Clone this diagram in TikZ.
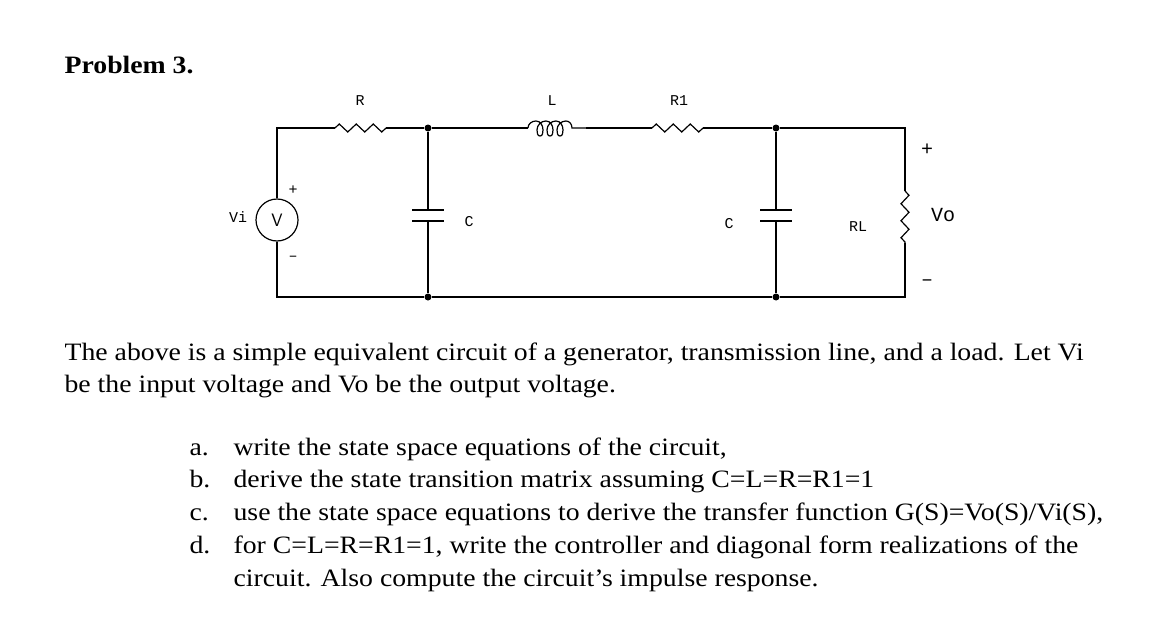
\documentclass[tikz,border=0pt]{standalone}
\usepackage{fontspec}
\setmainfont{Liberation Serif}[FakeStretch=1.11]
\newfontfamily\monof{Liberation Mono}
\usetikzlibrary{decorations.pathmorphing,calc}
\begin{document}
\begin{tikzpicture}[x=1pt,y=-1pt,line width=1.2pt,
  lbl/.style={font=\monof\fontsize{15}{15}\selectfont,inner sep=0pt},
  txt/.style={font=\fontsize{25}{32}\selectfont,inner sep=0pt,anchor=base west},
  dot/.style={circle,fill,inner sep=0pt,minimum size=7pt},
  zz/.style={decorate,decoration={zigzag,segment length=17pt,amplitude=4pt}}]
\useasboundingbox (0,0) rectangle (1166,626);
\node[txt,font=\bfseries\fontsize{25}{32}\selectfont] (title) at (64,74) {Problem 3.};
% corners
\coordinate (tl) at (277,128); \coordinate (bl) at (277,297);
\coordinate (tr) at (905,128); \coordinate (br) at (905,297);
\node[dot] (n1) at (428,128) {}; \node[dot] (n2) at (776,128) {};
\node[dot] (n3) at (428,297) {}; \node[dot] (n4) at (776,297) {};
\node[circle,draw,minimum size=42pt,inner sep=0pt,font=\sffamily\fontsize{18}{18}\selectfont] (src) at (277,220) {V};
\coordinate (ra) at (335,128); \coordinate (rb) at (386,128);
\coordinate (la) at (528,128); \coordinate (lb) at (586,128);
\coordinate (r1a) at (652,128); \coordinate (r1b) at (703,128);
\coordinate (rla) at (905,191); \coordinate (rlb) at (905,243);
\draw (src.north) -- (tl) -- (ra);
\draw[zz] (ra) -- (rb);
\draw (rb) -- (n1) -- (la);
\draw (la) to[out=90,in=180] ++(8,-7) to[out=0,in=90] ++(7,9) to[out=-90,in=0] ++(-3,6) to[out=180,in=-90] ++(-3,-6)
 to[out=90,in=180] ++(9,-9) to[out=0,in=90] ++(7,9) to[out=-90,in=0] ++(-3,6) to[out=180,in=-90] ++(-3,-6)
 to[out=90,in=180] ++(9,-9) to[out=0,in=90] ++(7,9) to[out=-90,in=0] ++(-3,6) to[out=180,in=-90] ++(-3,-6)
 to[out=90,in=180] ++(9,-9) to[out=0,in=90] ++(6,7) -- (lb);
\draw (lb) -- (r1a);
\draw[zz] (r1a) -- (r1b);
\draw (r1b) -- (n2) -- (tr) -- (rla);
\draw[zz,decoration={zigzag,segment length=17pt,amplitude=4pt}] (rla) -- (rlb);
\draw (rlb) -- (br) -- (n4) -- (n3) -- (bl) -- (src.south);
% capacitors
\draw (n1) -- (428,210) (412,210) -- (444,210) (412,221) -- (444,221) (428,221) -- (n3);
\draw (n2) -- (776,210) (760,210) -- (792,210) (760,221) -- (792,221) (776,221) -- (n4);
% labels
\node[lbl] (lR) at (360,101) {R};
\node[lbl] (lL) at (552,101) {L};
\node[lbl] (lR1) at (679,101) {R1};
\node[lbl] (lVi) at (238,217) {Vi};
\node[lbl] (lsp) at (293,190) {+};
\node[lbl] (lsm) at (293,258) {–};
\node[lbl] (lC1) at (469,222) {C};
\node[lbl] (lC2) at (729,224) {C};
\node[lbl] (lRL) at (858,227) {RL};
\node[lbl,font=\monof\fontsize{20}{20}\selectfont] (lp) at (927,150) {+};
\node[lbl,font=\monof\fontsize{20}{20}\selectfont] (lVo) at (943,215) {Vo};
\node[lbl,font=\monof\fontsize{20}{20}\selectfont] (lm) at (927,283) {–};
% text
\node[txt] (p1) at (64,360) {The above is a simple equivalent circuit of a generator, transmission line, and a load. Let Vi};
\node[txt] (p2) at (64,392) {be the input voltage and Vo be the output voltage.};
\node[txt] (a) at (189,455) {a.}; \node[txt] (at) at (233,455) {write the state space equations of the circuit,};
\node[txt] (b) at (189,487) {b.}; \node[txt] (bt) at (233,487) {derive the state transition matrix assuming C=L=R=R1=1};
\node[txt] (c) at (189,520) {c.}; \node[txt] (ct) at (233,520) {use the state space equations to derive the transfer function G(S)=Vo(S)/Vi(S),};
\node[txt] (d) at (189,553) {d.}; \node[txt] (dt) at (233,553) {for C=L=R=R1=1, write the controller and diagonal form realizations of the};
\node[txt] (e) at (233,586) {circuit. Also compute the circuit’s impulse response.};
\end{tikzpicture}
\end{document}
